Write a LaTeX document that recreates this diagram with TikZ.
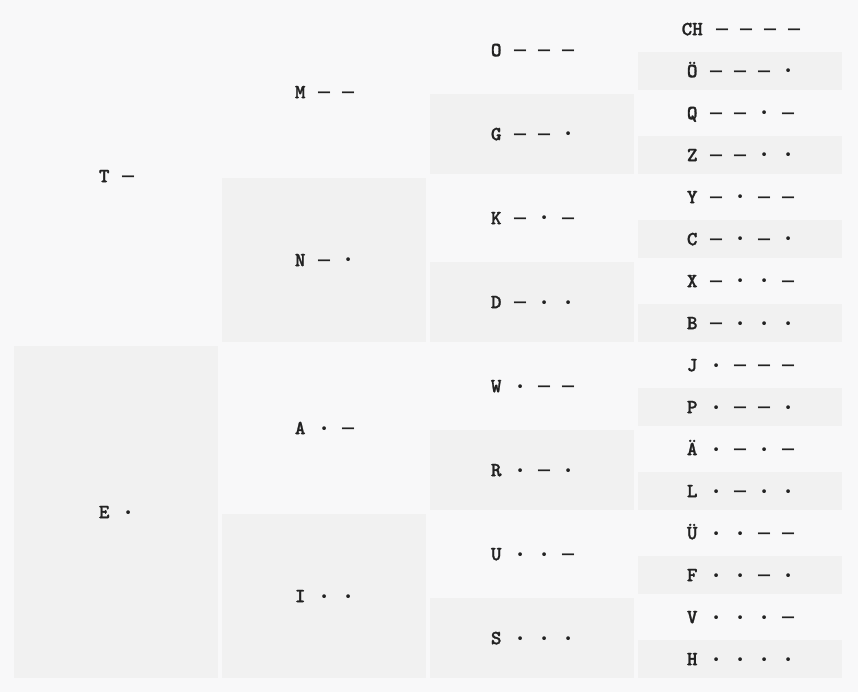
\documentclass[tikz,border=0pt]{standalone}
\usepackage{fontspec}
\newfontfamily\mono[Extension=.otf, FakeBold=1.4]{lmmonolt10-bold}
\newfontfamily\sym{DejaVu Sans}
\definecolor{bg}{HTML}{F8F8F9}
\definecolor{shade}{HTML}{F1F1F1}
\definecolor{ink}{HTML}{222222}
\newcommand\ltr[1]{\makebox[12pt]{#1}}
\newcommand\ltrr[1]{\makebox[24pt]{#1}}
\newcommand\dit{\hspace*{12pt}\makebox[12pt]{\raisebox{1.2pt}{\sym\fontsize{13}{13}\selectfont •}}}
\newcommand\dah{\hspace*{12pt}\makebox[12pt]{\raisebox{1.6pt}{\sym\bfseries\fontsize{13.5}{13.5}\selectfont —}}}
\tikzset{
  cellbox/.style={minimum width=204pt, minimum height=#1, inner sep=0pt,
    anchor=north west, text height=12pt, text depth=0pt,
    font=\mono\fontsize{20}{20}\selectfont, text=ink},
}
\begin{document}
\begin{tikzpicture}[x=1pt,y=1pt]
\fill[bg] (0,0) rectangle (858,-692);
\useasboundingbox (0,0) rectangle (858,-692);
% level 1
\foreach \nm/\k/\f/\tx in {T/0/none/{\ltr{T}\dah}, E/1/shade/{\ltr{E}\dit}}
  \node[cellbox=332pt, fill=\f] (\nm) at (14pt,{-10pt-\k*336pt}) {\tx};
% level 2
\foreach \nm/\k/\f/\tx in {M/0/none/{\ltr{M}\dah\dah}, N/1/shade/{\ltr{N}\dah\dit},
  A/2/none/{\ltr{A}\dit\dah}, I/3/shade/{\ltr{I}\dit\dit}}
  \node[cellbox=164pt, fill=\f] (\nm) at (222pt,{-10pt-\k*168pt}) {\tx};
% level 3
\foreach \nm/\k/\f/\tx in {O/0/none/{\ltr{O}\dah\dah\dah}, G/1/shade/{\ltr{G}\dah\dah\dit},
  K/2/none/{\ltr{K}\dah\dit\dah}, D/3/shade/{\ltr{D}\dah\dit\dit},
  W/4/none/{\ltr{W}\dit\dah\dah}, R/5/shade/{\ltr{R}\dit\dah\dit},
  U/6/none/{\ltr{U}\dit\dit\dah}, S/7/shade/{\ltr{S}\dit\dit\dit}}
  \node[cellbox=80pt, fill=\f] (\nm) at (430pt,{-10pt-\k*84pt}) {\tx};
% level 4
\foreach \nm/\k/\f/\tx in {CH/0/none/{\ltrr{CH}\dah\dah\dah\dah}, Oe/1/shade/{\ltr{Ö}\dah\dah\dah\dit},
  Q/2/none/{\ltr{Q}\dah\dah\dit\dah}, Z/3/shade/{\ltr{Z}\dah\dah\dit\dit},
  Y/4/none/{\ltr{Y}\dah\dit\dah\dah}, C/5/shade/{\ltr{C}\dah\dit\dah\dit},
  X/6/none/{\ltr{X}\dah\dit\dit\dah}, B/7/shade/{\ltr{B}\dah\dit\dit\dit},
  J/8/none/{\ltr{J}\dit\dah\dah\dah}, P/9/shade/{\ltr{P}\dit\dah\dah\dit},
  Ae/10/none/{\ltr{Ä}\dit\dah\dit\dah}, L/11/shade/{\ltr{L}\dit\dah\dit\dit},
  Ue/12/none/{\ltr{Ü}\dit\dit\dah\dah}, F/13/shade/{\ltr{F}\dit\dit\dah\dit},
  V/14/none/{\ltr{V}\dit\dit\dit\dah}, H/15/shade/{\ltr{H}\dit\dit\dit\dit}}
  \node[cellbox=38pt, fill=\f] (\nm) at (638pt,{-10pt-\k*42pt}) {\tx};
\end{tikzpicture}
\end{document}
